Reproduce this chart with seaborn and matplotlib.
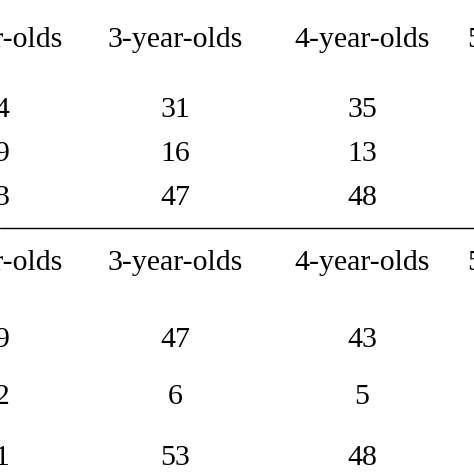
import matplotlib
matplotlib.use("Agg")
import matplotlib.pyplot as plt
import seaborn as sns

sns.set_style("white")
plt.rcParams['font.family'] = ['Liberation Serif', 'DejaVu Serif']

columns = ["2-year-olds", "3-year-olds", "4-year-olds", "5-year-olds"]
panel1 = [[34, 31, 35, 36], [19, 16, 13, 12], [43, 47, 48, 50]]
panel2 = [[39, 47, 43, 44], [12, 6, 5, 4], [51, 53, 48, 50]]

col_x = [-5, 175, 362, 535]
fig = plt.figure(figsize=(4.74, 4.74), dpi=100)
ax = fig.add_axes([0, 0, 1, 1])
ax.set_xlim(0, 474)
ax.set_ylim(474, 0)
ax.axis("off")

def panel(vals, y_head, ys):
    for x, c in zip(col_x, columns):
        ax.text(x, y_head, c, ha="center", va="center", fontsize=21.5, color="black")
    for row, y in zip(vals, ys):
        for x, v in zip(col_x, row):
            ax.text(x, y, str(v), ha="center", va="center", fontsize=21.5, color="black")

panel(panel1, 40, [110, 154, 198])
ax.plot([0, 474], [228, 228], color="black", lw=1)
panel(panel2, 263, [340, 397, 458])
fig.savefig("out.png", dpi=100)
